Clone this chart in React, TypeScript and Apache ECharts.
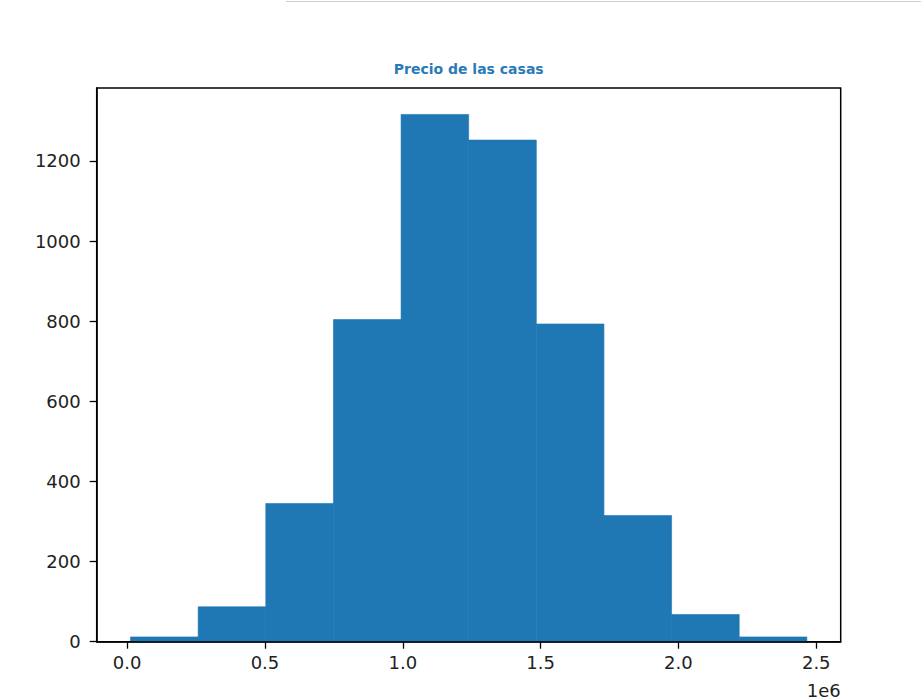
import React, { useEffect, useRef } from "react";
import * as echarts from "echarts";

const binEdges = [12300, 257700, 503000, 748400, 993800, 1239100, 1484500, 1729800, 1975200, 2220600, 2466000];
const counts = [12, 87, 345, 804, 1316, 1252, 793, 315, 68, 12];
const xTicks = [0, 500000, 1000000, 1500000, 2000000, 2500000];
const yTicks = [0, 200, 400, 600, 800, 1000, 1200];
const titleText = "Precio de las casas";
const offsetText = "1e6";

const FONT = "DejaVu Sans";

export default function App() {
  const ref = useRef<HTMLDivElement>(null);
  useEffect(() => {
    if (!ref.current) return;
    const chart = echarts.init(ref.current, null, { renderer: "svg" });
    const data = counts.map((c, i) => [binEdges[i], binEdges[i + 1], c]);
    chart.setOption({
      animation: false,
      backgroundColor: "#fff",
      grid: {
        left: 96.7,
        right: 80.3,
        top: 88,
        bottom: 56.3,
        show: true,
        borderColor: "#000",
        borderWidth: 1.5,
        backgroundColor: "transparent",
      },
      xAxis: {
        type: "value",
        min: -110400,
        max: 2588700,
        z: 10,
        splitLine: { show: false },
        axisLine: { show: true, onZero: false, lineStyle: { color: "#000", width: 1.5 } },
        axisTick: {
          show: true,
          length: 7,
          customValues: xTicks,
          lineStyle: { color: "#000", width: 1.3 },
        },
        axisLabel: {
          customValues: xTicks,
          formatter: (v: number) => (v / 1e6).toFixed(1),
          fontFamily: FONT,
          fontSize: 18,
          color: "#222",
          margin: 12,
        },
      },
      yAxis: {
        type: "value",
        min: 0,
        max: 1382,
        z: 10,
        splitLine: { show: false },
        axisLine: { show: true, onZero: false, lineStyle: { color: "#000", width: 1.5 } },
        axisTick: {
          show: true,
          length: 7,
          customValues: yTicks,
          lineStyle: { color: "#000", width: 1.3 },
        },
        axisLabel: {
          customValues: yTicks,
          formatter: (v: number) => String(v),
          fontFamily: FONT,
          fontSize: 18,
          color: "#222",
          margin: 16,
        },
      },
      series: [
        {
          type: "custom",
          data,
          encode: { x: [0, 1], y: 2 },
          renderItem: (params: any, api: any) => {
            const p0 = api.coord([api.value(0), api.value(2)]);
            const p1 = api.coord([api.value(1), 0]);
            return {
              type: "rect",
              shape: { x: p0[0], y: p0[1], width: p1[0] - p0[0], height: p1[1] - p0[1] },
              style: { fill: "#1f77b4", stroke: "#1f77b4", lineWidth: 0.6 },
            };
          },
        },
      ],
      graphic: [
        {
          type: "line",
          shape: { x1: 286, y1: 1.5, x2: 921, y2: 1.5 },
          style: { stroke: "#d0d0d0", lineWidth: 1.2 },
        },
        {
          type: "text",
          x: 468.7,
          y: 69,
          style: {
            text: titleText,
            fontFamily: FONT,
            fontWeight: "bold",
            fontSize: 14,
            fill: "#2a7ab8",
            align: "center",
            verticalAlign: "middle",
          },
        },
        {
          type: "text",
          x: 840.7,
          y: 681,
          style: {
            text: offsetText,
            fontFamily: FONT,
            fontSize: 18,
            fill: "#222",
            align: "right",
            verticalAlign: "top",
          },
        },
      ],
    });
    return () => chart.dispose();
  }, []);
  return (
    <div
      ref={ref}
      style={{ position: "fixed", left: 0, top: 0, width: 921, height: 698 }}
    />
  );
}
